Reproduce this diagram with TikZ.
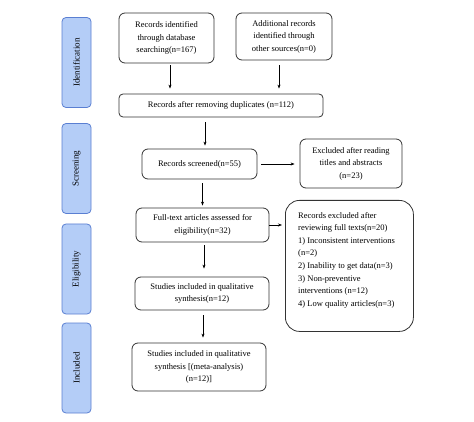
\documentclass[tikz,border=0pt]{standalone}
\usepackage{fontspec}
\setmainfont{Liberation Serif}
\usepackage{tikz}
\usetikzlibrary{arrows.meta}
\usepackage{xcolor}
\definecolor{stagefill}{HTML}{B4CDF7}
\definecolor{stageline}{HTML}{5A7FD2}

\begin{document}
\begin{tikzpicture}[x=1pt,y=-1pt,
  box/.style={draw=black!80,line width=.8pt,rounded corners=6pt,align=center,
    font=\fontsize{8.5}{12.5}\selectfont,inner sep=2pt},
  stage/.style={draw=stageline,fill=stagefill,line width=.8pt,rounded corners=4pt,
    rotate=90,minimum width=90pt,minimum height=29pt,inner sep=0pt,
    font=\fontsize{9}{10}\selectfont},
  arr/.style={-{Stealth[length=4pt,width=3pt]},line width=.9pt}]
\useasboundingbox (0,0) rectangle (474,422);
\node[stage] (sid) at (76.5,62.5) {Identification};
\node[stage] (sscr) at (76.5,168.5) {Screening};
\node[stage] (selig) at (76.5,269) {Eligibility};
\node[stage] (sinc) at (76.5,368) {Included};
\node[box,minimum width=95pt,minimum height=50pt] (db) at (166.5,38)
  {Records identified\\through database\\searching(n=167)};
\node[box,minimum width=96pt,minimum height=47pt] (other) at (284,36.5)
  {Additional records\\identified through\\other sources(n=0)};
\node[box,minimum width=204pt,minimum height=23pt,rounded corners=4pt] (dup) at (221,105.5)
  {Records after removing duplicates (n=112)};
\node[box,minimum width=115pt,minimum height=30pt] (scr) at (199.5,164)
  {Records screened(n=55)};
\node[box,minimum width=102pt,minimum height=49pt] (exta) at (351,163.5)
  {Excluded after reading\\titles and abstracts\\(n=23)};
\node[box,minimum width=133pt,minimum height=34pt] (full) at (202.5,225)
  {Full-text articles assessed for\\eligibility(n=32)};
\node[box,minimum width=128pt,minimum height=131pt,rounded corners=14pt,anchor=north west] (extb) at (285,200) {};
\node[anchor=north west,align=left,inner sep=0pt,font=\fontsize{8.5}{12.6}\selectfont] (extbtxt)
  at ([xshift=13pt,yshift=-12pt]extb.north west)
  {Records excluded after\\reviewing full texts(n=20)\\1) Inconsistent interventions\\(n=2)\\
   2) Inability to get data(n=3)\\3) Non-preventive\\interventions (n=12)\\4) Low quality articles(n=3)};
\node[box,minimum width=134pt,minimum height=33pt] (qual) at (202,293.5)
  {Studies included in qualitative\\synthesis(n=12)};
\node[box,minimum width=134pt,minimum height=48pt] (meta) at (199,367)
  {Studies included in qualitative\\synthesis [(meta-analysis)\\(n=12)]};
\draw[arr,shorten <=2pt,shorten >=5pt] ([xshift=3.5pt]db.south) -- ([xshift=3.5pt]db.south |- dup.north);
\draw[arr,shorten <=5pt,shorten >=5pt] ([xshift=-5pt]other.south) -- ([xshift=-5pt]other.south |- dup.north);
\draw[arr,shorten <=5pt,shorten >=3pt] ([xshift=5.5pt]scr.north |- dup.south) -- ([xshift=5.5pt]scr.north);
\draw[arr,shorten <=4pt,shorten >=5pt] (scr.east) -- (scr.east -| exta.west);
\draw[arr,shorten <=4pt,shorten >=2pt] (scr.south -| full.north) -- (full.north);
\draw[arr,shorten >=3pt] (full.east) -- (full.east -| extb.west);
\draw[arr,shorten <=3pt,shorten >=8pt] ([xshift=1.5pt]full.south) -- ([xshift=1.5pt]full.south |- qual.north);
\draw[arr,shorten <=5pt,shorten >=5pt] ([xshift=1pt]qual.south) -- ([xshift=1pt]qual.south |- meta.north);
\end{tikzpicture}
\end{document}
